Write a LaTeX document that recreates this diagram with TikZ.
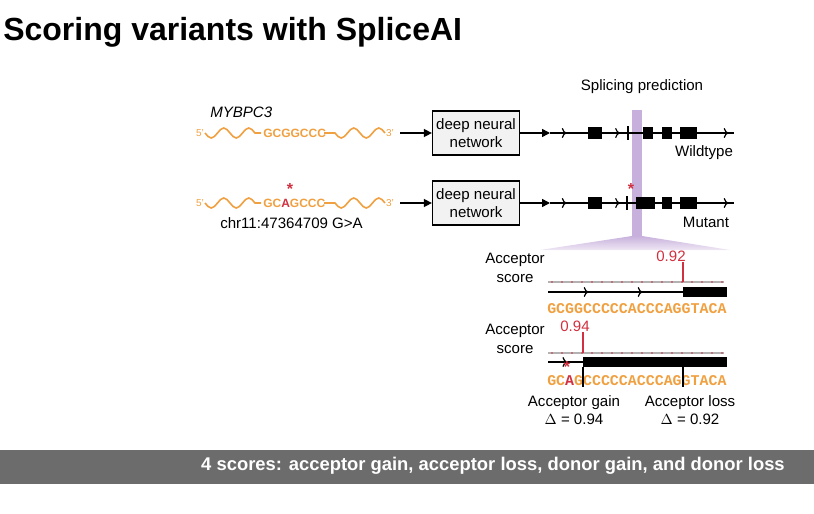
\documentclass[tikz,border=0pt]{standalone}
\usepackage{fontspec}
\setmainfont{Liberation Sans}
\newfontfamily\seqfont{Liberation Mono}
\usetikzlibrary{arrows.meta,decorations.markings}
\definecolor{org}{HTML}{F0A040}
\definecolor{redm}{HTML}{D03040}
\definecolor{purp}{HTML}{C8B0DC}
\begin{document}
\begin{tikzpicture}[x=0.75pt,y=-0.75pt,
  lbl/.style={font=\fontsize{11.3}{13}\selectfont,inner sep=0},
  box/.style={draw,line width=1.2pt,fill=gray!10,minimum width=65pt,minimum height=33pt,align=center,font=\fontsize{11.3}{13}\selectfont,inner sep=1pt},
  arr/.style={line width=1.1pt,-{Triangle[length=6pt,width=6pt]}},
  wave/.style={org,line width=1.2pt},
  seq/.style={font=\seqfont\bfseries\fontsize{11.2}{12}\selectfont,text=org,inner sep=0},
  exon/.style={fill=black,draw=none},
  star/.style={text=redm,font=\bfseries\fontsize{12}{12}\selectfont,inner sep=0}]
\useasboundingbox (0,0) rectangle (814,514);
\node[anchor=west,font=\bfseries\fontsize{24}{28}\selectfont,inner sep=0] (title) at (3,32) {Scoring variants with SpliceAI};
\fill[gray!85!black] (0,450) rectangle (814,484);
\node[anchor=east,text=white,font=\bfseries\fontsize{13.8}{16}\selectfont,inner sep=0] (bar) at (785,466) {4 scores: acceptor gain, acceptor loss, donor gain, and donor loss};
% purple band
\fill[purp] (632,110) rectangle (642,236);
\shade[top color=purp,bottom color=purp!30] (632,236) -- (642,236) -- (730,250) -- (540,250) -- cycle;
% sequences
\foreach \y in {133,203}{
 \draw[wave] (205,\y) sin (211.25,\y+5) cos (217.5,\y) sin (223.75,\y-5) cos (230,\y) sin (236.25,\y+5) cos (242.5,\y) sin (248.75,\y-5) cos (255,\y) -- (261,\y);
 \draw[wave] (324,\y) -- (335,\y) sin (341.25,\y+5) cos (347.5,\y) sin (353.75,\y-5) cos (360,\y) sin (366.25,\y+5) cos (372.5,\y) sin (378.75,\y-5) cos (385,\y);
 \node[text=org,font=\fontsize{7.5}{8}\selectfont,inner sep=0] at (200,\y) {5'};
 \node[text=org,font=\fontsize{7.5}{8}\selectfont,inner sep=0] at (390,\y) {3'};
}
\node[anchor=west,font=\bfseries\fontsize{9}{12}\selectfont,text=org,inner sep=0] (s1) at (263,133) {GCGGCCC};
\node[anchor=west,font=\bfseries\fontsize{9}{12}\selectfont,text=org,inner sep=0] (s2) at (263,203) {GC\textcolor{redm}{A}GCCC};
\node[star] (st1) at (290,189) {*};
\node[anchor=west,font=\itshape\fontsize{11.3}{13}\selectfont,inner sep=0] (gene) at (210,112) {MYBPC3};
\node[lbl,anchor=west] (chr) at (220,223) {chr11:47364709 G>A};
\coordinate (a1) at (400,133); \coordinate (a2) at (400,203);
\node[box] (dnn1) at (476,133) {deep neural\\network};
\node[box] (dnn2) at (476,203) {deep neural\\network};
\draw[arr] (a1) -- (dnn1);
\draw[arr] (a2) -- (dnn2);
\coordinate (g1) at (550,133); \coordinate (g2) at (550,203);
\draw[arr] (dnn1) -- (g1);
\draw[arr] (dnn2) -- (g2);
\node[lbl] (sp) at (642,87) {Splicing prediction};
% gene lines
\foreach \y in {133,203}
 \draw[line width=0.9pt,decoration={markings,mark=at position 0.09 with {\arrow{>}},mark=at position 0.38 with {\arrow{>}},mark=at position 0.97 with {\arrow{>}}},postaction=decorate] (550,\y) -- (734,\y);
\foreach \a/\b in {588/602,643/653,662/672,680/697} \fill[exon] (\a,127) rectangle (\b,139);
\foreach \a/\b in {588/602,636/655,662/672,680/697} \fill[exon] (\a,197) rectangle (\b,209);
\draw[line width=1pt] (628,126) -- (628,140);
\draw[line width=1pt] (627,196) -- (627,210);
\node[star] (st2) at (631,189) {*};
\node[lbl] (wt) at (704,153) {Wildtype};
\node[lbl] (mt) at (706,222) {Mutant};
% lower panel
\node[lbl,align=center] (as1) at (515,268) {Acceptor\\[1pt]score};
\node[lbl,align=center] (as2) at (515,339) {Acceptor\\[1pt]score};
\foreach \y in {282,353}{
 \draw[gray!60,line width=1.2pt] (548,\y) -- (724,\y);
 \foreach \x in {552,562,...,722} \fill[redm] (\x,\y) circle[radius=0.6pt];
}
\node[lbl,text=redm] (v1) at (671,256) {0.92};
\draw[redm,line width=1.2pt] (683,262) -- (683,282);
\node[lbl,text=redm] (v2) at (575,326) {0.94};
\draw[redm,line width=1.2pt] (583,332) -- (583,353);
\draw[line width=0.9pt,decoration={markings,mark=at position 0.3 with {\arrow{>}},mark=at position 0.7 with {\arrow{>}}},postaction=decorate] (548,292) -- (683,292);
\fill[exon] (683,287) rectangle (727,297);
\draw[line width=0.9pt,decoration={markings,mark=at position 0.55 with {\arrow{>}}},postaction=decorate] (548,362) -- (583,362);
\fill[exon] (583,357) rectangle (727,367);
\node[seq,anchor=west] (q1) at (547,309) {GCGGCCCCCACCCAGGTACA};
\node[seq,anchor=west] (q2) at (547,381) {GC\textcolor{redm}{A}GCCCCCACCCAGGTACA};
\node[star] (st3) at (567,367) {*};
\draw[line width=1pt] (583,367) -- (583,387);
\draw[line width=1pt] (683,367) -- (683,387);
\node[lbl,align=center] (ag) at (574,410) {Acceptor gain\\[1pt]$\Delta$ = 0.94};
\node[lbl,align=center] (al) at (690,410) {Acceptor loss\\[1pt]$\Delta$ = 0.92};
\end{tikzpicture}
\end{document}
